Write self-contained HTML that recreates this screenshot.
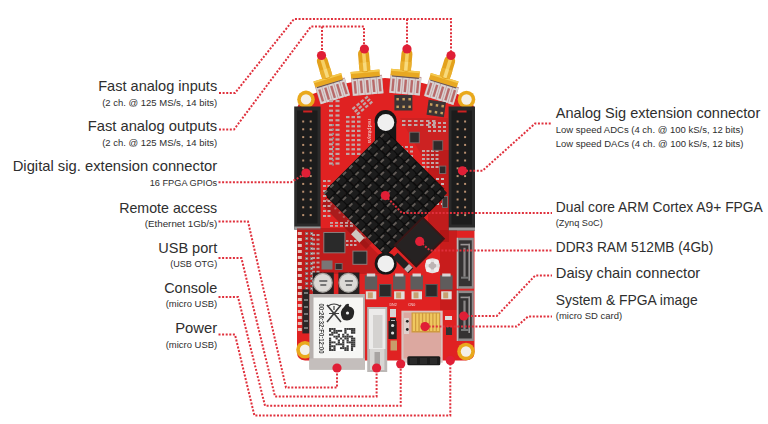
<!DOCTYPE html>
<html><head><meta charset="utf-8"><style>
html,body{margin:0;padding:0;background:#fff;}
svg{display:block;}
text{font-family:"Liberation Sans",sans-serif;fill:#2e2e2e;}
</style></head><body>
<svg width="768" height="424" viewBox="0 0 768 424">
<rect width="768" height="424" fill="#fff"/>
<defs><filter id="bl" x="-5%" y="-5%" width="110%" height="110%"><feGaussianBlur stdDeviation="0.6"/></filter></defs>
<g filter="url(#bl)"><path d="M297,108 Q300,98 310,95 Q345,80 385,78 Q425,80 460,95 Q472,98 474.5,108 L474.5,352 Q474.5,360 466,360.5 L305,360.5 Q297,360 297,352 Z" fill="#e02424"/>
<g transform="translate(328.3,80.5) rotate(-17)"><rect x="-14.5" y="2" width="31" height="18.5" fill="#c09494"/><rect x="-14" y="3" width="5.6" height="17.5" fill="#d8d2d2"/><rect x="-12.4" y="6" width="2.4" height="12.5" fill="#b86a6a"/><rect x="-7.8" y="3" width="5.6" height="17.5" fill="#d8d2d2"/><rect x="-6.199999999999999" y="6" width="2.4" height="12.5" fill="#b86a6a"/><rect x="-1.6" y="3" width="5.6" height="17.5" fill="#d8d2d2"/><rect x="0.0" y="6" width="2.4" height="12.5" fill="#b86a6a"/><rect x="4.6" y="3" width="5.6" height="17.5" fill="#d8d2d2"/><rect x="6.199999999999999" y="6" width="2.4" height="12.5" fill="#b86a6a"/><rect x="10.8" y="3" width="5.6" height="17.5" fill="#d8d2d2"/><rect x="12.4" y="6" width="2.4" height="12.5" fill="#b86a6a"/><rect x="-13" y="2.5" width="27" height="1.6" fill="#6a5656"/><rect x="-14.5" y="-3.5" width="29" height="6.5" fill="#e8a821"/><rect x="-14.5" y="-3.5" width="29" height="2" fill="#f5c94e"/><rect x="-5.5" y="-25.5" width="11" height="23.5" rx="5" fill="#e3a11b"/><rect x="-1.5" y="-22.5" width="3.5" height="17.5" fill="#f6d065"/><rect x="-5.5" y="-12" width="11" height="9" fill="#eab02f"/><rect x="-1.5" y="-12" width="3.5" height="9" fill="#f8da7c"/></g>
<g transform="translate(365.3,74.2) rotate(-5)"><rect x="-14.5" y="2" width="31" height="18.5" fill="#c09494"/><rect x="-14" y="3" width="5.6" height="17.5" fill="#d8d2d2"/><rect x="-12.4" y="6" width="2.4" height="12.5" fill="#b86a6a"/><rect x="-7.8" y="3" width="5.6" height="17.5" fill="#d8d2d2"/><rect x="-6.199999999999999" y="6" width="2.4" height="12.5" fill="#b86a6a"/><rect x="-1.6" y="3" width="5.6" height="17.5" fill="#d8d2d2"/><rect x="0.0" y="6" width="2.4" height="12.5" fill="#b86a6a"/><rect x="4.6" y="3" width="5.6" height="17.5" fill="#d8d2d2"/><rect x="6.199999999999999" y="6" width="2.4" height="12.5" fill="#b86a6a"/><rect x="10.8" y="3" width="5.6" height="17.5" fill="#d8d2d2"/><rect x="12.4" y="6" width="2.4" height="12.5" fill="#b86a6a"/><rect x="-13" y="2.5" width="27" height="1.6" fill="#6a5656"/><rect x="-14.5" y="-3.5" width="29" height="6.5" fill="#e8a821"/><rect x="-14.5" y="-3.5" width="29" height="2" fill="#f5c94e"/><rect x="-5.5" y="-25.5" width="11" height="23.5" rx="5" fill="#e3a11b"/><rect x="-1.5" y="-22.5" width="3.5" height="17.5" fill="#f6d065"/><rect x="-5.5" y="-12" width="11" height="9" fill="#eab02f"/><rect x="-1.5" y="-12" width="3.5" height="9" fill="#f8da7c"/></g>
<g transform="translate(405.2,73.6) rotate(5)"><rect x="-14.5" y="2" width="31" height="18.5" fill="#c09494"/><rect x="-14" y="3" width="5.6" height="17.5" fill="#d8d2d2"/><rect x="-12.4" y="6" width="2.4" height="12.5" fill="#b86a6a"/><rect x="-7.8" y="3" width="5.6" height="17.5" fill="#d8d2d2"/><rect x="-6.199999999999999" y="6" width="2.4" height="12.5" fill="#b86a6a"/><rect x="-1.6" y="3" width="5.6" height="17.5" fill="#d8d2d2"/><rect x="0.0" y="6" width="2.4" height="12.5" fill="#b86a6a"/><rect x="4.6" y="3" width="5.6" height="17.5" fill="#d8d2d2"/><rect x="6.199999999999999" y="6" width="2.4" height="12.5" fill="#b86a6a"/><rect x="10.8" y="3" width="5.6" height="17.5" fill="#d8d2d2"/><rect x="12.4" y="6" width="2.4" height="12.5" fill="#b86a6a"/><rect x="-13" y="2.5" width="27" height="1.6" fill="#6a5656"/><rect x="-14.5" y="-3.5" width="29" height="6.5" fill="#e8a821"/><rect x="-14.5" y="-3.5" width="29" height="2" fill="#f5c94e"/><rect x="-5.5" y="-25" width="11" height="23" rx="5" fill="#e3a11b"/><rect x="-1.5" y="-22" width="3.5" height="17" fill="#f6d065"/><rect x="-5.5" y="-12" width="11" height="9" fill="#eab02f"/><rect x="-1.5" y="-12" width="3.5" height="9" fill="#f8da7c"/></g>
<g transform="translate(443.7,80.5) rotate(17)"><rect x="-14.5" y="2" width="31" height="18.5" fill="#c09494"/><rect x="-14" y="3" width="5.6" height="17.5" fill="#d8d2d2"/><rect x="-12.4" y="6" width="2.4" height="12.5" fill="#b86a6a"/><rect x="-7.8" y="3" width="5.6" height="17.5" fill="#d8d2d2"/><rect x="-6.199999999999999" y="6" width="2.4" height="12.5" fill="#b86a6a"/><rect x="-1.6" y="3" width="5.6" height="17.5" fill="#d8d2d2"/><rect x="0.0" y="6" width="2.4" height="12.5" fill="#b86a6a"/><rect x="4.6" y="3" width="5.6" height="17.5" fill="#d8d2d2"/><rect x="6.199999999999999" y="6" width="2.4" height="12.5" fill="#b86a6a"/><rect x="10.8" y="3" width="5.6" height="17.5" fill="#d8d2d2"/><rect x="12.4" y="6" width="2.4" height="12.5" fill="#b86a6a"/><rect x="-13" y="2.5" width="27" height="1.6" fill="#6a5656"/><rect x="-14.5" y="-3.5" width="29" height="6.5" fill="#e8a821"/><rect x="-14.5" y="-3.5" width="29" height="2" fill="#f5c94e"/><rect x="-5.5" y="-25.5" width="11" height="23.5" rx="5" fill="#e3a11b"/><rect x="-1.5" y="-22.5" width="3.5" height="17.5" fill="#f6d065"/><rect x="-5.5" y="-12" width="11" height="9" fill="#eab02f"/><rect x="-1.5" y="-12" width="3.5" height="9" fill="#f8da7c"/></g>
<circle cx="306" cy="99.4" r="8.8" fill="#e9a91c"/><circle cx="306" cy="99.4" r="5.2" fill="#f4f0e8"/>
<circle cx="466.5" cy="99.5" r="8.8" fill="#e9a91c"/><circle cx="466.5" cy="99.5" r="5.2" fill="#f4f0e8"/>
<circle cx="305" cy="349.8" r="8.8" fill="#e9a91c"/><circle cx="305" cy="349.8" r="5.2" fill="#f4f0e8"/>
<circle cx="466" cy="351.5" r="8.8" fill="#e9a91c"/><circle cx="466" cy="351.5" r="5.2" fill="#f4f0e8"/>
<rect x="294.2" y="106.5" width="26.400000000000034" height="123.0" fill="#2b2b2b"/>
<rect x="297.2" y="110.5" width="20.400000000000034" height="113.0" fill="#1c1c1c"/>
<rect x="303.2" y="110.5" width="9" height="2" fill="#c22"/>
<rect x="302.2" y="120.5" width="2" height="2" fill="#b89070"/>
<rect x="309.7" y="120.5" width="2" height="2" fill="#b89070"/>
<rect x="302.2" y="128.3" width="2" height="2" fill="#b89070"/>
<rect x="309.7" y="128.3" width="2" height="2" fill="#b89070"/>
<rect x="302.2" y="136.10000000000002" width="2" height="2" fill="#b89070"/>
<rect x="309.7" y="136.10000000000002" width="2" height="2" fill="#b89070"/>
<rect x="302.2" y="143.90000000000003" width="2" height="2" fill="#b89070"/>
<rect x="309.7" y="143.90000000000003" width="2" height="2" fill="#b89070"/>
<rect x="302.2" y="151.70000000000005" width="2" height="2" fill="#b89070"/>
<rect x="309.7" y="151.70000000000005" width="2" height="2" fill="#b89070"/>
<rect x="302.2" y="159.50000000000006" width="2" height="2" fill="#b89070"/>
<rect x="309.7" y="159.50000000000006" width="2" height="2" fill="#b89070"/>
<rect x="302.2" y="167.30000000000007" width="2" height="2" fill="#b89070"/>
<rect x="309.7" y="167.30000000000007" width="2" height="2" fill="#b89070"/>
<rect x="302.2" y="175.10000000000008" width="2" height="2" fill="#b89070"/>
<rect x="309.7" y="175.10000000000008" width="2" height="2" fill="#b89070"/>
<rect x="302.2" y="182.9000000000001" width="2" height="2" fill="#b89070"/>
<rect x="309.7" y="182.9000000000001" width="2" height="2" fill="#b89070"/>
<rect x="302.2" y="190.7000000000001" width="2" height="2" fill="#b89070"/>
<rect x="309.7" y="190.7000000000001" width="2" height="2" fill="#b89070"/>
<rect x="302.2" y="198.5000000000001" width="2" height="2" fill="#b89070"/>
<rect x="309.7" y="198.5000000000001" width="2" height="2" fill="#b89070"/>
<rect x="302.2" y="206.30000000000013" width="2" height="2" fill="#b89070"/>
<rect x="309.7" y="206.30000000000013" width="2" height="2" fill="#b89070"/>
<rect x="302.2" y="214.10000000000014" width="2" height="2" fill="#b89070"/>
<rect x="309.7" y="214.10000000000014" width="2" height="2" fill="#b89070"/>
<rect x="294.2" y="226.5" width="26.400000000000034" height="3" fill="#9a9a9a"/>
<rect x="448.6" y="106.5" width="26.399999999999977" height="124.0" fill="#2b2b2b"/>
<rect x="451.6" y="110.5" width="20.399999999999977" height="114.0" fill="#1c1c1c"/>
<rect x="457.6" y="110.5" width="9" height="2" fill="#c22"/>
<rect x="456.6" y="120.5" width="2" height="2" fill="#b89070"/>
<rect x="464.1" y="120.5" width="2" height="2" fill="#b89070"/>
<rect x="456.6" y="128.3" width="2" height="2" fill="#b89070"/>
<rect x="464.1" y="128.3" width="2" height="2" fill="#b89070"/>
<rect x="456.6" y="136.10000000000002" width="2" height="2" fill="#b89070"/>
<rect x="464.1" y="136.10000000000002" width="2" height="2" fill="#b89070"/>
<rect x="456.6" y="143.90000000000003" width="2" height="2" fill="#b89070"/>
<rect x="464.1" y="143.90000000000003" width="2" height="2" fill="#b89070"/>
<rect x="456.6" y="151.70000000000005" width="2" height="2" fill="#b89070"/>
<rect x="464.1" y="151.70000000000005" width="2" height="2" fill="#b89070"/>
<rect x="456.6" y="159.50000000000006" width="2" height="2" fill="#b89070"/>
<rect x="464.1" y="159.50000000000006" width="2" height="2" fill="#b89070"/>
<rect x="456.6" y="167.30000000000007" width="2" height="2" fill="#b89070"/>
<rect x="464.1" y="167.30000000000007" width="2" height="2" fill="#b89070"/>
<rect x="456.6" y="175.10000000000008" width="2" height="2" fill="#b89070"/>
<rect x="464.1" y="175.10000000000008" width="2" height="2" fill="#b89070"/>
<rect x="456.6" y="182.9000000000001" width="2" height="2" fill="#b89070"/>
<rect x="464.1" y="182.9000000000001" width="2" height="2" fill="#b89070"/>
<rect x="456.6" y="190.7000000000001" width="2" height="2" fill="#b89070"/>
<rect x="464.1" y="190.7000000000001" width="2" height="2" fill="#b89070"/>
<rect x="456.6" y="198.5000000000001" width="2" height="2" fill="#b89070"/>
<rect x="464.1" y="198.5000000000001" width="2" height="2" fill="#b89070"/>
<rect x="456.6" y="206.30000000000013" width="2" height="2" fill="#b89070"/>
<rect x="464.1" y="206.30000000000013" width="2" height="2" fill="#b89070"/>
<rect x="456.6" y="214.10000000000014" width="2" height="2" fill="#b89070"/>
<rect x="464.1" y="214.10000000000014" width="2" height="2" fill="#b89070"/>
<rect x="448.6" y="227.5" width="26.399999999999977" height="3" fill="#9a9a9a"/>
<rect x="428" y="150" width="21" height="92" fill="#9a1212" opacity="0.45"/>
<rect x="440" y="230" width="17" height="80" fill="#9a1212" opacity="0.35"/>
<path d="M326,197 L372,243 L366,249 L322,205 Z" fill="#5a0c0c" opacity="0.4"/>
<path d="M400,118 L448,118 L448,175 L430,170 Z" fill="#b81c1c" opacity="0.5"/>
<path d="M297,228 L352,228 L380,256 L380,274 L312,274 L312,300 L297,300 Z" fill="#9a1212" opacity="0.45"/>
<rect x="305.0" y="232.0" width="3.2" height="3" fill="#8c7070"/>
<rect x="305.0" y="237.0" width="3.2" height="3" fill="#8c7070"/>
<rect x="305.0" y="242.0" width="3.2" height="3" fill="#8c7070"/>
<rect x="305.0" y="247.0" width="3.2" height="3" fill="#8c7070"/>
<rect x="305.0" y="252.0" width="3.2" height="3" fill="#8c7070"/>
<rect x="305.0" y="257.0" width="3.2" height="3" fill="#8c7070"/>
<rect x="305.0" y="262.0" width="3.2" height="3" fill="#8c7070"/>
<rect x="305.0" y="267.0" width="3.2" height="3" fill="#8c7070"/>
<rect x="305.0" y="272.0" width="3.2" height="3" fill="#8c7070"/>
<rect x="305.0" y="277.0" width="3.2" height="3" fill="#8c7070"/>
<rect x="305.0" y="282.0" width="3.2" height="3" fill="#8c7070"/>
<rect x="305.0" y="287.0" width="3.2" height="3" fill="#8c7070"/>
<rect x="310.0" y="232.0" width="3.2" height="3" fill="#8c7070"/>
<rect x="310.0" y="237.0" width="3.2" height="3" fill="#8c7070"/>
<rect x="310.0" y="242.0" width="3.2" height="3" fill="#8c7070"/>
<rect x="310.0" y="247.0" width="3.2" height="3" fill="#8c7070"/>
<rect x="310.0" y="252.0" width="3.2" height="3" fill="#8c7070"/>
<rect x="310.0" y="257.0" width="3.2" height="3" fill="#8c7070"/>
<rect x="310.0" y="262.0" width="3.2" height="3" fill="#8c7070"/>
<rect x="310.0" y="267.0" width="3.2" height="3" fill="#8c7070"/>
<rect x="310.0" y="272.0" width="3.2" height="3" fill="#8c7070"/>
<rect x="310.0" y="277.0" width="3.2" height="3" fill="#8c7070"/>
<rect x="310.0" y="282.0" width="3.2" height="3" fill="#8c7070"/>
<rect x="310.0" y="287.0" width="3.2" height="3" fill="#8c7070"/>
<rect x="306.0" y="233.0" width="1.5" height="1.2" fill="#d8c8c8"/>
<rect x="306.0" y="238.0" width="1.5" height="1.2" fill="#d8c8c8"/>
<rect x="306.0" y="243.0" width="1.5" height="1.2" fill="#d8c8c8"/>
<rect x="306.0" y="248.0" width="1.5" height="1.2" fill="#d8c8c8"/>
<rect x="306.0" y="253.0" width="1.5" height="1.2" fill="#d8c8c8"/>
<rect x="306.0" y="258.0" width="1.5" height="1.2" fill="#d8c8c8"/>
<rect x="306.0" y="263.0" width="1.5" height="1.2" fill="#d8c8c8"/>
<rect x="306.0" y="268.0" width="1.5" height="1.2" fill="#d8c8c8"/>
<rect x="306.0" y="273.0" width="1.5" height="1.2" fill="#d8c8c8"/>
<rect x="306.0" y="278.0" width="1.5" height="1.2" fill="#d8c8c8"/>
<rect x="306.0" y="283.0" width="1.5" height="1.2" fill="#d8c8c8"/>
<rect x="306.0" y="288.0" width="1.5" height="1.2" fill="#d8c8c8"/>
<rect x="311.0" y="233.0" width="1.5" height="1.2" fill="#d8c8c8"/>
<rect x="311.0" y="238.0" width="1.5" height="1.2" fill="#d8c8c8"/>
<rect x="311.0" y="243.0" width="1.5" height="1.2" fill="#d8c8c8"/>
<rect x="311.0" y="248.0" width="1.5" height="1.2" fill="#d8c8c8"/>
<rect x="311.0" y="253.0" width="1.5" height="1.2" fill="#d8c8c8"/>
<rect x="311.0" y="258.0" width="1.5" height="1.2" fill="#d8c8c8"/>
<rect x="311.0" y="263.0" width="1.5" height="1.2" fill="#d8c8c8"/>
<rect x="311.0" y="268.0" width="1.5" height="1.2" fill="#d8c8c8"/>
<rect x="311.0" y="273.0" width="1.5" height="1.2" fill="#d8c8c8"/>
<rect x="311.0" y="278.0" width="1.5" height="1.2" fill="#d8c8c8"/>
<rect x="311.0" y="283.0" width="1.5" height="1.2" fill="#d8c8c8"/>
<rect x="311.0" y="288.0" width="1.5" height="1.2" fill="#d8c8c8"/>
<rect x="329.0" y="100.0" width="4" height="2.2" fill="#c2a6a6"/>
<rect x="329.0" y="104.8" width="4" height="2.2" fill="#c2a6a6"/>
<rect x="329.0" y="109.6" width="4" height="2.2" fill="#c2a6a6"/>
<rect x="329.0" y="114.4" width="4" height="2.2" fill="#c2a6a6"/>
<rect x="329.0" y="119.2" width="4" height="2.2" fill="#c2a6a6"/>
<rect x="329.0" y="124.0" width="4" height="2.2" fill="#c2a6a6"/>
<rect x="329.0" y="128.8" width="4" height="2.2" fill="#c2a6a6"/>
<rect x="329.0" y="133.6" width="4" height="2.2" fill="#c2a6a6"/>
<rect x="329.0" y="138.4" width="4" height="2.2" fill="#c2a6a6"/>
<rect x="329.0" y="143.2" width="4" height="2.2" fill="#c2a6a6"/>
<rect x="329.0" y="148.0" width="4" height="2.2" fill="#c2a6a6"/>
<rect x="329.0" y="152.8" width="4" height="2.2" fill="#c2a6a6"/>
<rect x="329.0" y="157.6" width="4" height="2.2" fill="#c2a6a6"/>
<rect x="329.0" y="162.4" width="4" height="2.2" fill="#c2a6a6"/>
<rect x="335.5" y="100.0" width="4" height="2.2" fill="#c2a6a6"/>
<rect x="335.5" y="104.8" width="4" height="2.2" fill="#c2a6a6"/>
<rect x="335.5" y="109.6" width="4" height="2.2" fill="#c2a6a6"/>
<rect x="335.5" y="114.4" width="4" height="2.2" fill="#c2a6a6"/>
<rect x="335.5" y="119.2" width="4" height="2.2" fill="#c2a6a6"/>
<rect x="335.5" y="124.0" width="4" height="2.2" fill="#c2a6a6"/>
<rect x="335.5" y="128.8" width="4" height="2.2" fill="#c2a6a6"/>
<rect x="335.5" y="133.6" width="4" height="2.2" fill="#c2a6a6"/>
<rect x="335.5" y="138.4" width="4" height="2.2" fill="#c2a6a6"/>
<rect x="335.5" y="143.2" width="4" height="2.2" fill="#c2a6a6"/>
<rect x="335.5" y="148.0" width="4" height="2.2" fill="#c2a6a6"/>
<rect x="335.5" y="152.8" width="4" height="2.2" fill="#c2a6a6"/>
<rect x="335.5" y="157.6" width="4" height="2.2" fill="#c2a6a6"/>
<rect x="335.5" y="162.4" width="4" height="2.2" fill="#c2a6a6"/>
<rect x="346.0" y="116.0" width="3.5" height="2.2" fill="#c2a6a6"/>
<rect x="346.0" y="120.6" width="3.5" height="2.2" fill="#c2a6a6"/>
<rect x="346.0" y="125.2" width="3.5" height="2.2" fill="#c2a6a6"/>
<rect x="346.0" y="129.8" width="3.5" height="2.2" fill="#c2a6a6"/>
<rect x="346.0" y="134.4" width="3.5" height="2.2" fill="#c2a6a6"/>
<rect x="346.0" y="139.0" width="3.5" height="2.2" fill="#c2a6a6"/>
<rect x="346.0" y="143.6" width="3.5" height="2.2" fill="#c2a6a6"/>
<rect x="346.0" y="148.2" width="3.5" height="2.2" fill="#c2a6a6"/>
<rect x="346.0" y="152.8" width="3.5" height="2.2" fill="#c2a6a6"/>
<rect x="351.5" y="116.0" width="3.5" height="2.2" fill="#c2a6a6"/>
<rect x="351.5" y="120.6" width="3.5" height="2.2" fill="#c2a6a6"/>
<rect x="351.5" y="125.2" width="3.5" height="2.2" fill="#c2a6a6"/>
<rect x="351.5" y="129.8" width="3.5" height="2.2" fill="#c2a6a6"/>
<rect x="351.5" y="134.4" width="3.5" height="2.2" fill="#c2a6a6"/>
<rect x="351.5" y="139.0" width="3.5" height="2.2" fill="#c2a6a6"/>
<rect x="351.5" y="143.6" width="3.5" height="2.2" fill="#c2a6a6"/>
<rect x="351.5" y="148.2" width="3.5" height="2.2" fill="#c2a6a6"/>
<rect x="351.5" y="152.8" width="3.5" height="2.2" fill="#c2a6a6"/>
<rect x="357.0" y="116.0" width="3.5" height="2.2" fill="#c2a6a6"/>
<rect x="357.0" y="120.6" width="3.5" height="2.2" fill="#c2a6a6"/>
<rect x="357.0" y="125.2" width="3.5" height="2.2" fill="#c2a6a6"/>
<rect x="357.0" y="129.8" width="3.5" height="2.2" fill="#c2a6a6"/>
<rect x="357.0" y="134.4" width="3.5" height="2.2" fill="#c2a6a6"/>
<rect x="357.0" y="139.0" width="3.5" height="2.2" fill="#c2a6a6"/>
<rect x="357.0" y="143.6" width="3.5" height="2.2" fill="#c2a6a6"/>
<rect x="357.0" y="148.2" width="3.5" height="2.2" fill="#c2a6a6"/>
<rect x="357.0" y="152.8" width="3.5" height="2.2" fill="#c2a6a6"/>
<rect x="332.0" y="124.0" width="2" height="2" fill="#9a8a8a"/>
<rect x="332.0" y="128.4" width="2" height="2" fill="#9a8a8a"/>
<rect x="332.0" y="132.8" width="2" height="2" fill="#9a8a8a"/>
<rect x="332.0" y="137.2" width="2" height="2" fill="#9a8a8a"/>
<rect x="332.0" y="141.6" width="2" height="2" fill="#9a8a8a"/>
<rect x="332.0" y="146.0" width="2" height="2" fill="#9a8a8a"/>
<rect x="332.0" y="150.4" width="2" height="2" fill="#9a8a8a"/>
<rect x="332.0" y="154.8" width="2" height="2" fill="#9a8a8a"/>
<rect x="332.0" y="159.2" width="2" height="2" fill="#9a8a8a"/>
<rect x="332.0" y="163.6" width="2" height="2" fill="#9a8a8a"/>
<g transform="translate(362,105) rotate(-40)">
<rect x="-10.0" y="-4.0" width="3.5" height="2.2" fill="#c2a6a6"/>
<rect x="-10.0" y="-0.5" width="3.5" height="2.2" fill="#c2a6a6"/>
<rect x="-10.0" y="3.0" width="3.5" height="2.2" fill="#c2a6a6"/>
<rect x="-4.5" y="-4.0" width="3.5" height="2.2" fill="#c2a6a6"/>
<rect x="-4.5" y="-0.5" width="3.5" height="2.2" fill="#c2a6a6"/>
<rect x="-4.5" y="3.0" width="3.5" height="2.2" fill="#c2a6a6"/>
<rect x="1.0" y="-4.0" width="3.5" height="2.2" fill="#c2a6a6"/>
<rect x="1.0" y="-0.5" width="3.5" height="2.2" fill="#c2a6a6"/>
<rect x="1.0" y="3.0" width="3.5" height="2.2" fill="#c2a6a6"/>
<rect x="6.5" y="-4.0" width="3.5" height="2.2" fill="#c2a6a6"/>
<rect x="6.5" y="-0.5" width="3.5" height="2.2" fill="#c2a6a6"/>
<rect x="6.5" y="3.0" width="3.5" height="2.2" fill="#c2a6a6"/>
</g>
<text x="0" y="0" transform="translate(368,119) rotate(90)" font-size="6" style="fill:#f2d8d8" textLength="24" lengthAdjust="spacingAndGlyphs">redpitaya</text>
<rect x="402.0" y="120.0" width="3.5" height="2" fill="#c2a6a6"/>
<rect x="402.0" y="124.0" width="3.5" height="2" fill="#c2a6a6"/>
<rect x="408.0" y="120.0" width="3.5" height="2" fill="#c2a6a6"/>
<rect x="408.0" y="124.0" width="3.5" height="2" fill="#c2a6a6"/>
<rect x="414.0" y="120.0" width="3.5" height="2" fill="#c2a6a6"/>
<rect x="414.0" y="124.0" width="3.5" height="2" fill="#c2a6a6"/>
<rect x="420.0" y="120.0" width="3.5" height="2" fill="#c2a6a6"/>
<rect x="420.0" y="124.0" width="3.5" height="2" fill="#c2a6a6"/>
<rect x="426.0" y="120.0" width="3.5" height="2" fill="#c2a6a6"/>
<rect x="426.0" y="124.0" width="3.5" height="2" fill="#c2a6a6"/>
<rect x="432.0" y="120.0" width="3.5" height="2" fill="#c2a6a6"/>
<rect x="432.0" y="124.0" width="3.5" height="2" fill="#c2a6a6"/>
<rect x="400.0" y="146.0" width="3" height="2" fill="#c2a6a6"/>
<rect x="400.0" y="150.5" width="3" height="2" fill="#c2a6a6"/>
<rect x="400.0" y="155.0" width="3" height="2" fill="#c2a6a6"/>
<rect x="400.0" y="159.5" width="3" height="2" fill="#c2a6a6"/>
<rect x="400.0" y="164.0" width="3" height="2" fill="#c2a6a6"/>
<rect x="400.0" y="168.5" width="3" height="2" fill="#c2a6a6"/>
<rect x="405.0" y="146.0" width="3" height="2" fill="#c2a6a6"/>
<rect x="405.0" y="150.5" width="3" height="2" fill="#c2a6a6"/>
<rect x="405.0" y="155.0" width="3" height="2" fill="#c2a6a6"/>
<rect x="405.0" y="159.5" width="3" height="2" fill="#c2a6a6"/>
<rect x="405.0" y="164.0" width="3" height="2" fill="#c2a6a6"/>
<rect x="405.0" y="168.5" width="3" height="2" fill="#c2a6a6"/>
<rect x="410.0" y="146.0" width="3" height="2" fill="#c2a6a6"/>
<rect x="410.0" y="150.5" width="3" height="2" fill="#c2a6a6"/>
<rect x="410.0" y="155.0" width="3" height="2" fill="#c2a6a6"/>
<rect x="410.0" y="159.5" width="3" height="2" fill="#c2a6a6"/>
<rect x="410.0" y="164.0" width="3" height="2" fill="#c2a6a6"/>
<rect x="410.0" y="168.5" width="3" height="2" fill="#c2a6a6"/>
<rect x="422.0" y="150.0" width="3" height="2" fill="#c2a6a6"/>
<rect x="422.0" y="154.0" width="3" height="2" fill="#c2a6a6"/>
<rect x="422.0" y="158.0" width="3" height="2" fill="#c2a6a6"/>
<rect x="422.0" y="162.0" width="3" height="2" fill="#c2a6a6"/>
<rect x="422.0" y="166.0" width="3" height="2" fill="#c2a6a6"/>
<rect x="426.5" y="150.0" width="3" height="2" fill="#c2a6a6"/>
<rect x="426.5" y="154.0" width="3" height="2" fill="#c2a6a6"/>
<rect x="426.5" y="158.0" width="3" height="2" fill="#c2a6a6"/>
<rect x="426.5" y="162.0" width="3" height="2" fill="#c2a6a6"/>
<rect x="426.5" y="166.0" width="3" height="2" fill="#c2a6a6"/>
<rect x="431.0" y="150.0" width="3" height="2" fill="#c2a6a6"/>
<rect x="431.0" y="154.0" width="3" height="2" fill="#c2a6a6"/>
<rect x="431.0" y="158.0" width="3" height="2" fill="#c2a6a6"/>
<rect x="431.0" y="162.0" width="3" height="2" fill="#c2a6a6"/>
<rect x="431.0" y="166.0" width="3" height="2" fill="#c2a6a6"/>
<rect x="435.5" y="150.0" width="3" height="2" fill="#c2a6a6"/>
<rect x="435.5" y="154.0" width="3" height="2" fill="#c2a6a6"/>
<rect x="435.5" y="158.0" width="3" height="2" fill="#c2a6a6"/>
<rect x="435.5" y="162.0" width="3" height="2" fill="#c2a6a6"/>
<rect x="435.5" y="166.0" width="3" height="2" fill="#c2a6a6"/>
<rect x="428.0" y="122.0" width="3" height="2" fill="#c2a6a6"/>
<rect x="428.0" y="126.0" width="3" height="2" fill="#c2a6a6"/>
<rect x="428.0" y="130.0" width="3" height="2" fill="#c2a6a6"/>
<rect x="433.0" y="122.0" width="3" height="2" fill="#c2a6a6"/>
<rect x="433.0" y="126.0" width="3" height="2" fill="#c2a6a6"/>
<rect x="433.0" y="130.0" width="3" height="2" fill="#c2a6a6"/>
<rect x="438.0" y="122.0" width="3" height="2" fill="#c2a6a6"/>
<rect x="438.0" y="126.0" width="3" height="2" fill="#c2a6a6"/>
<rect x="438.0" y="130.0" width="3" height="2" fill="#c2a6a6"/>
<rect x="443.0" y="122.0" width="3" height="2" fill="#c2a6a6"/>
<rect x="443.0" y="126.0" width="3" height="2" fill="#c2a6a6"/>
<rect x="443.0" y="130.0" width="3" height="2" fill="#c2a6a6"/>
<g transform="translate(403.4,102.75) rotate(0)"><rect x="-9.0" y="-7.75" width="18.0" height="15.5" fill="#3a3434"/><rect x="-7.0" y="-4.8" width="2.5" height="2.5" fill="#c9a060"/><rect x="-7.0" y="2.8" width="2.5" height="2.5" fill="#c9a060"/><rect x="-1.0" y="-4.8" width="2.5" height="2.5" fill="#c9a060"/><rect x="-1.0" y="2.8" width="2.5" height="2.5" fill="#c9a060"/><rect x="5.0" y="-4.8" width="2.5" height="2.5" fill="#c9a060"/><rect x="5.0" y="2.8" width="2.5" height="2.5" fill="#c9a060"/></g>
<g transform="translate(436.25,108.5) rotate(8)"><rect x="-8.75" y="-7.5" width="17.5" height="15" fill="#3a3434"/><rect x="-6.8" y="-4.5" width="2.5" height="2.5" fill="#c9a060"/><rect x="-6.8" y="2.5" width="2.5" height="2.5" fill="#c9a060"/><rect x="-1.0" y="-4.5" width="2.5" height="2.5" fill="#c9a060"/><rect x="-1.0" y="2.5" width="2.5" height="2.5" fill="#c9a060"/><rect x="4.8" y="-4.5" width="2.5" height="2.5" fill="#c9a060"/><rect x="4.8" y="2.5" width="2.5" height="2.5" fill="#c9a060"/></g>
<rect x="409.2" y="131.7" width="10.600000000000023" height="11.600000000000023" fill="#7a6262"/>
<rect x="410.2" y="132.7" width="8.600000000000023" height="9.600000000000023" fill="#2e2c2c"/>
<rect x="432.5" y="140.2" width="10.699999999999989" height="10.600000000000023" fill="#7a6262"/>
<rect x="433.5" y="141.2" width="8.699999999999989" height="8.600000000000023" fill="#2e2c2c"/>
<rect x="439" y="165.6" width="7.300000000000011" height="8.400000000000006" fill="#7a6262"/>
<rect x="440" y="166.6" width="5.300000000000011" height="6.400000000000006" fill="#2e2c2c"/>
<rect x="323.0" y="180.0" width="3" height="2" fill="#c2a6a6"/>
<rect x="323.0" y="185.0" width="3" height="2" fill="#c2a6a6"/>
<rect x="323.0" y="190.0" width="3" height="2" fill="#c2a6a6"/>
<rect x="323.0" y="195.0" width="3" height="2" fill="#c2a6a6"/>
<rect x="323.0" y="200.0" width="3" height="2" fill="#c2a6a6"/>
<rect x="323.0" y="205.0" width="3" height="2" fill="#c2a6a6"/>
<rect x="323.0" y="210.0" width="3" height="2" fill="#c2a6a6"/>
<rect x="323.0" y="215.0" width="3" height="2" fill="#c2a6a6"/>
<rect x="327.5" y="180.0" width="3" height="2" fill="#c2a6a6"/>
<rect x="327.5" y="185.0" width="3" height="2" fill="#c2a6a6"/>
<rect x="327.5" y="190.0" width="3" height="2" fill="#c2a6a6"/>
<rect x="327.5" y="195.0" width="3" height="2" fill="#c2a6a6"/>
<rect x="327.5" y="200.0" width="3" height="2" fill="#c2a6a6"/>
<rect x="327.5" y="205.0" width="3" height="2" fill="#c2a6a6"/>
<rect x="327.5" y="210.0" width="3" height="2" fill="#c2a6a6"/>
<rect x="327.5" y="215.0" width="3" height="2" fill="#c2a6a6"/>
<rect x="330.0" y="222.0" width="3" height="1.8" fill="#c2a6a6"/>
<rect x="330.0" y="225.0" width="3" height="1.8" fill="#c2a6a6"/>
<rect x="335.0" y="222.0" width="3" height="1.8" fill="#c2a6a6"/>
<rect x="335.0" y="225.0" width="3" height="1.8" fill="#c2a6a6"/>
<rect x="340.0" y="222.0" width="3" height="1.8" fill="#c2a6a6"/>
<rect x="340.0" y="225.0" width="3" height="1.8" fill="#c2a6a6"/>
<rect x="345.0" y="222.0" width="3" height="1.8" fill="#c2a6a6"/>
<rect x="345.0" y="225.0" width="3" height="1.8" fill="#c2a6a6"/>
<rect x="350.0" y="222.0" width="3" height="1.8" fill="#c2a6a6"/>
<rect x="350.0" y="225.0" width="3" height="1.8" fill="#c2a6a6"/>
<rect x="436.0" y="178.0" width="3" height="2" fill="#c8b8b8"/>
<rect x="436.0" y="183.0" width="3" height="2" fill="#c8b8b8"/>
<rect x="436.0" y="188.0" width="3" height="2" fill="#c8b8b8"/>
<rect x="436.0" y="193.0" width="3" height="2" fill="#c8b8b8"/>
<rect x="436.0" y="198.0" width="3" height="2" fill="#c8b8b8"/>
<rect x="436.0" y="203.0" width="3" height="2" fill="#c8b8b8"/>
<rect x="441.0" y="178.0" width="3" height="2" fill="#c8b8b8"/>
<rect x="441.0" y="183.0" width="3" height="2" fill="#c8b8b8"/>
<rect x="441.0" y="188.0" width="3" height="2" fill="#c8b8b8"/>
<rect x="441.0" y="193.0" width="3" height="2" fill="#c8b8b8"/>
<rect x="441.0" y="198.0" width="3" height="2" fill="#c8b8b8"/>
<rect x="441.0" y="203.0" width="3" height="2" fill="#c8b8b8"/>
<rect x="442" y="196" width="6" height="12" fill="#7a6262"/>
<rect x="443" y="197" width="4" height="10" fill="#3a3434"/>
<rect x="323.3" y="232" width="22.099999999999966" height="21.30000000000001" fill="#8a7a7a"/>
<rect x="324.3" y="233" width="20.099999999999966" height="19.30000000000001" fill="#2b2a2a"/>
<rect x="352.4" y="250.6" width="15.0" height="14.200000000000017" fill="#8a7a7a"/>
<rect x="353.4" y="251.6" width="13.0" height="12.200000000000017" fill="#2b2a2a"/>
<rect x="334.8" y="263" width="7.899999999999977" height="7" fill="#7a6262"/>
<rect x="335.8" y="264" width="5.899999999999977" height="5" fill="#2e2c2c"/>
<rect x="321.5" y="260.5" width="11" height="9" fill="#7a7676"/>
<g transform="translate(357.7,236) rotate(45)"><rect x="-6" y="-3.5" width="12" height="7" fill="#cfc8c0"/></g>
<rect x="346.0" y="240.0" width="2.5" height="2" fill="#c2a6a6"/>
<rect x="346.0" y="244.0" width="2.5" height="2" fill="#c2a6a6"/>
<rect x="350.0" y="240.0" width="2.5" height="2" fill="#c2a6a6"/>
<rect x="350.0" y="244.0" width="2.5" height="2" fill="#c2a6a6"/>
<rect x="354.0" y="240.0" width="2.5" height="2" fill="#c2a6a6"/>
<rect x="354.0" y="244.0" width="2.5" height="2" fill="#c2a6a6"/>
<rect x="312.0" y="234.0" width="3" height="2" fill="#b8a0a0"/>
<rect x="312.0" y="238.6" width="3" height="2" fill="#b8a0a0"/>
<rect x="312.0" y="243.2" width="3" height="2" fill="#b8a0a0"/>
<rect x="312.0" y="247.8" width="3" height="2" fill="#b8a0a0"/>
<rect x="312.0" y="252.4" width="3" height="2" fill="#b8a0a0"/>
<rect x="312.0" y="257.0" width="3" height="2" fill="#b8a0a0"/>
<rect x="312.0" y="261.6" width="3" height="2" fill="#b8a0a0"/>
<rect x="312.0" y="266.2" width="3" height="2" fill="#b8a0a0"/>
<rect x="312.0" y="270.8" width="3" height="2" fill="#b8a0a0"/>
<rect x="312.0" y="275.4" width="3" height="2" fill="#b8a0a0"/>
<rect x="312.0" y="280.0" width="3" height="2" fill="#b8a0a0"/>
<rect x="312.0" y="284.6" width="3" height="2" fill="#b8a0a0"/>
<rect x="312.0" y="289.2" width="3" height="2" fill="#b8a0a0"/>
<rect x="312.0" y="293.8" width="3" height="2" fill="#b8a0a0"/>
<rect x="316.5" y="234.0" width="3" height="2" fill="#b8a0a0"/>
<rect x="316.5" y="238.6" width="3" height="2" fill="#b8a0a0"/>
<rect x="316.5" y="243.2" width="3" height="2" fill="#b8a0a0"/>
<rect x="316.5" y="247.8" width="3" height="2" fill="#b8a0a0"/>
<rect x="316.5" y="252.4" width="3" height="2" fill="#b8a0a0"/>
<rect x="316.5" y="257.0" width="3" height="2" fill="#b8a0a0"/>
<rect x="316.5" y="261.6" width="3" height="2" fill="#b8a0a0"/>
<rect x="316.5" y="266.2" width="3" height="2" fill="#b8a0a0"/>
<rect x="316.5" y="270.8" width="3" height="2" fill="#b8a0a0"/>
<rect x="316.5" y="275.4" width="3" height="2" fill="#b8a0a0"/>
<rect x="316.5" y="280.0" width="3" height="2" fill="#b8a0a0"/>
<rect x="316.5" y="284.6" width="3" height="2" fill="#b8a0a0"/>
<rect x="316.5" y="289.2" width="3" height="2" fill="#b8a0a0"/>
<rect x="316.5" y="293.8" width="3" height="2" fill="#b8a0a0"/>
<rect x="312.8" y="272.5" width="21" height="21.5" fill="#262424"/>
<circle cx="322.8" cy="282.8" r="9.4" fill="#dcdad6"/>
<circle cx="322.8" cy="282.8" r="9.4" fill="none" stroke="#a8a4a0" stroke-width="1.2"/>
<rect x="319.3" y="280" width="8" height="2" fill="#777"/><rect x="320.3" y="284" width="6" height="2" fill="#777"/>
<rect x="338.4" y="272.5" width="21" height="21.5" fill="#262424"/>
<circle cx="348.4" cy="282.8" r="9.4" fill="#dcdad6"/>
<circle cx="348.4" cy="282.8" r="9.4" fill="none" stroke="#a8a4a0" stroke-width="1.2"/>
<rect x="344.9" y="280" width="8" height="2" fill="#777"/><rect x="345.9" y="284" width="6" height="2" fill="#777"/>
<rect x="364.8" y="275.3" width="12.4" height="14.3" fill="#5e5c5c"/>
<rect x="366.8" y="273.5" width="8.4" height="3" fill="#d8d4d4"/>
<rect x="365.8" y="291.3" width="10.5" height="8" fill="#e0e0dc"/>
<rect x="367.8" y="292.3" width="5" height="6" fill="#c8a070"/>
<rect x="393.1" y="275.3" width="12.4" height="14.3" fill="#5e5c5c"/>
<rect x="395.1" y="273.5" width="8.4" height="3" fill="#d8d4d4"/>
<rect x="394.1" y="291.3" width="10.5" height="8" fill="#e0e0dc"/>
<rect x="396.1" y="292.3" width="5" height="6" fill="#c8a070"/>
<rect x="410.5" y="275.3" width="12.4" height="14.3" fill="#5e5c5c"/>
<rect x="412.5" y="273.5" width="8.4" height="3" fill="#d8d4d4"/>
<rect x="411.5" y="291.3" width="10.5" height="8" fill="#e0e0dc"/>
<rect x="413.5" y="292.3" width="5" height="6" fill="#c8a070"/>
<rect x="440.2" y="275.3" width="12.4" height="14.3" fill="#5e5c5c"/>
<rect x="442.2" y="273.5" width="8.4" height="3" fill="#d8d4d4"/>
<rect x="441.2" y="291.3" width="10.5" height="8" fill="#e0e0dc"/>
<rect x="443.2" y="292.3" width="5" height="6" fill="#c8a070"/>
<rect x="379" y="284" width="12.5" height="13" fill="#555"/>
<rect x="380" y="285" width="10.5" height="11" fill="#2a2a2a"/>
<rect x="425.3" y="284" width="12.399999999999977" height="13" fill="#555"/>
<rect x="426.3" y="285" width="10.399999999999977" height="11" fill="#2a2a2a"/>
<circle cx="432.4" cy="265.7" r="7.5" fill="#e4e0e0"/><circle cx="432.4" cy="265.7" r="3.8" fill="#bdb4b4"/>
<circle cx="428.4" cy="261.7" r="2.5" fill="#f0eeee"/>
<circle cx="436.4" cy="261.7" r="2.5" fill="#f0eeee"/>
<circle cx="428.4" cy="269.7" r="2.5" fill="#f0eeee"/>
<circle cx="436.4" cy="269.7" r="2.5" fill="#f0eeee"/>
<rect x="390" y="318" width="6" height="12" fill="#222"/><rect x="391" y="320" width="4" height="3" fill="#bbb"/>
<rect x="445" y="316" width="7" height="4" fill="#ddd"/><rect x="446" y="327" width="6" height="8" fill="#333"/>
<rect x="302.4" y="289.4" width="7" height="44" fill="#2a2626"/>
<rect x="304" y="292" width="4" height="2" fill="#777"/>
<rect x="304" y="299" width="4" height="2" fill="#777"/>
<rect x="304" y="306" width="4" height="2" fill="#777"/>
<rect x="304" y="313" width="4" height="2" fill="#777"/>
<rect x="304" y="320" width="4" height="2" fill="#777"/>
<rect x="304" y="327" width="4" height="2" fill="#777"/>
<rect x="297.8" y="232" width="4" height="3" fill="#e4c4bc"/>
<rect x="297.8" y="238" width="4" height="3" fill="#e4c4bc"/>
<rect x="297.8" y="244" width="4" height="3" fill="#e4c4bc"/>
<rect x="297.8" y="250" width="4" height="3" fill="#e4c4bc"/>
<rect x="297.8" y="256" width="4" height="3" fill="#e4c4bc"/>
<rect x="297.8" y="262" width="4" height="3" fill="#e4c4bc"/>
<rect x="297.8" y="268" width="4" height="3" fill="#e4c4bc"/>
<rect x="297.8" y="274" width="4" height="3" fill="#e4c4bc"/>
<rect x="297.8" y="280" width="4" height="3" fill="#e4c4bc"/>
<rect x="297.8" y="286" width="4" height="3" fill="#e4c4bc"/>
<rect x="297.8" y="292" width="4" height="3" fill="#e4c4bc"/>
<rect x="297.8" y="298" width="4" height="3" fill="#e4c4bc"/>
<rect x="297.8" y="304" width="4" height="3" fill="#e4c4bc"/>
<rect x="297.8" y="310" width="4" height="3" fill="#e4c4bc"/>
<rect x="297.8" y="316" width="4" height="3" fill="#e4c4bc"/>
<rect x="297.8" y="322" width="4" height="3" fill="#e4c4bc"/>
<rect x="297.8" y="328" width="4" height="3" fill="#e4c4bc"/>
<g opacity="0.5"><rect x="326.0" y="199.0" width="2" height="2" fill="#c8a0a0"/><rect x="330.2" y="203.2" width="2" height="2" fill="#c8a0a0"/><rect x="334.4" y="207.4" width="2" height="2" fill="#c8a0a0"/><rect x="338.6" y="211.6" width="2" height="2" fill="#c8a0a0"/><rect x="342.8" y="215.8" width="2" height="2" fill="#c8a0a0"/><rect x="347.0" y="220.0" width="2" height="2" fill="#c8a0a0"/><rect x="351.2" y="224.2" width="2" height="2" fill="#c8a0a0"/><rect x="355.4" y="228.4" width="2" height="2" fill="#c8a0a0"/><rect x="359.6" y="232.6" width="2" height="2" fill="#c8a0a0"/><rect x="363.8" y="236.8" width="2" height="2" fill="#c8a0a0"/></g>
<circle cx="385.6" cy="121" r="11" fill="#151515"/><rect x="375" y="121" width="21.2" height="22" fill="#151515"/>
<path d="M385.5,130.0 L444.0,188.5 L444.0,197.5 L385.5,256.0 L327.0,197.5 L327.0,188.5 Z" fill="#111"/>
<circle cx="385.7" cy="263.6" r="11" fill="#151515"/>
<g transform="translate(385.5,193.0) rotate(45)"><rect x="-43.66" y="-43.66" width="7.13" height="7.13" rx="1" fill="#1d1c1c"/><rect x="-43.83" y="-40.54" width="1.96" height="4.45" fill="#625c58"/><rect x="-43.66" y="-34.75" width="7.13" height="7.13" rx="1" fill="#1d1c1c"/><rect x="-43.83" y="-31.63" width="1.96" height="4.45" fill="#625c58"/><rect x="-43.66" y="-25.84" width="7.13" height="7.13" rx="1" fill="#1d1c1c"/><rect x="-43.83" y="-22.72" width="1.96" height="4.45" fill="#625c58"/><rect x="-43.66" y="-16.93" width="7.13" height="7.13" rx="1" fill="#1d1c1c"/><rect x="-43.83" y="-13.81" width="1.96" height="4.45" fill="#625c58"/><rect x="-43.66" y="-8.02" width="7.13" height="7.13" rx="1" fill="#1d1c1c"/><rect x="-43.83" y="-4.90" width="1.96" height="4.45" fill="#625c58"/><rect x="-43.66" y="0.89" width="7.13" height="7.13" rx="1" fill="#1d1c1c"/><rect x="-43.83" y="4.01" width="1.96" height="4.45" fill="#625c58"/><rect x="-43.66" y="9.80" width="7.13" height="7.13" rx="1" fill="#1d1c1c"/><rect x="-43.83" y="12.92" width="1.96" height="4.45" fill="#625c58"/><rect x="-43.66" y="18.71" width="7.13" height="7.13" rx="1" fill="#1d1c1c"/><rect x="-43.83" y="21.83" width="1.96" height="4.45" fill="#625c58"/><rect x="-43.66" y="27.62" width="7.13" height="7.13" rx="1" fill="#1d1c1c"/><rect x="-43.83" y="30.74" width="1.96" height="4.45" fill="#625c58"/><rect x="-43.66" y="36.53" width="7.13" height="7.13" rx="1" fill="#1d1c1c"/><rect x="-43.83" y="39.65" width="1.96" height="4.45" fill="#625c58"/><rect x="-34.75" y="-43.66" width="7.13" height="7.13" rx="1" fill="#1d1c1c"/><rect x="-34.93" y="-40.54" width="1.96" height="4.45" fill="#625c58"/><rect x="-34.75" y="-34.75" width="7.13" height="7.13" rx="1" fill="#1d1c1c"/><rect x="-34.93" y="-31.63" width="1.96" height="4.45" fill="#625c58"/><rect x="-34.75" y="-25.84" width="7.13" height="7.13" rx="1" fill="#1d1c1c"/><rect x="-34.93" y="-22.72" width="1.96" height="4.45" fill="#625c58"/><rect x="-34.75" y="-16.93" width="7.13" height="7.13" rx="1" fill="#1d1c1c"/><rect x="-34.93" y="-13.81" width="1.96" height="4.45" fill="#625c58"/><rect x="-34.75" y="-8.02" width="7.13" height="7.13" rx="1" fill="#1d1c1c"/><rect x="-34.93" y="-4.90" width="1.96" height="4.45" fill="#625c58"/><rect x="-34.75" y="0.89" width="7.13" height="7.13" rx="1" fill="#1d1c1c"/><rect x="-34.93" y="4.01" width="1.96" height="4.45" fill="#625c58"/><rect x="-34.75" y="9.80" width="7.13" height="7.13" rx="1" fill="#1d1c1c"/><rect x="-34.93" y="12.92" width="1.96" height="4.45" fill="#625c58"/><rect x="-34.75" y="18.71" width="7.13" height="7.13" rx="1" fill="#1d1c1c"/><rect x="-34.93" y="21.83" width="1.96" height="4.45" fill="#625c58"/><rect x="-34.75" y="27.62" width="7.13" height="7.13" rx="1" fill="#1d1c1c"/><rect x="-34.93" y="30.74" width="1.96" height="4.45" fill="#625c58"/><rect x="-34.75" y="36.53" width="7.13" height="7.13" rx="1" fill="#1d1c1c"/><rect x="-34.93" y="39.65" width="1.96" height="4.45" fill="#625c58"/><rect x="-25.84" y="-43.66" width="7.13" height="7.13" rx="1" fill="#1d1c1c"/><rect x="-26.02" y="-40.54" width="1.96" height="4.45" fill="#625c58"/><rect x="-25.84" y="-34.75" width="7.13" height="7.13" rx="1" fill="#1d1c1c"/><rect x="-26.02" y="-31.63" width="1.96" height="4.45" fill="#625c58"/><rect x="-25.84" y="-25.84" width="7.13" height="7.13" rx="1" fill="#1d1c1c"/><rect x="-26.02" y="-22.72" width="1.96" height="4.45" fill="#625c58"/><rect x="-25.84" y="-16.93" width="7.13" height="7.13" rx="1" fill="#1d1c1c"/><rect x="-26.02" y="-13.81" width="1.96" height="4.45" fill="#625c58"/><rect x="-25.84" y="-8.02" width="7.13" height="7.13" rx="1" fill="#1d1c1c"/><rect x="-26.02" y="-4.90" width="1.96" height="4.45" fill="#625c58"/><rect x="-25.84" y="0.89" width="7.13" height="7.13" rx="1" fill="#1d1c1c"/><rect x="-26.02" y="4.01" width="1.96" height="4.45" fill="#625c58"/><rect x="-25.84" y="9.80" width="7.13" height="7.13" rx="1" fill="#1d1c1c"/><rect x="-26.02" y="12.92" width="1.96" height="4.45" fill="#625c58"/><rect x="-25.84" y="18.71" width="7.13" height="7.13" rx="1" fill="#1d1c1c"/><rect x="-26.02" y="21.83" width="1.96" height="4.45" fill="#625c58"/><rect x="-25.84" y="27.62" width="7.13" height="7.13" rx="1" fill="#1d1c1c"/><rect x="-26.02" y="30.74" width="1.96" height="4.45" fill="#625c58"/><rect x="-25.84" y="36.53" width="7.13" height="7.13" rx="1" fill="#1d1c1c"/><rect x="-26.02" y="39.65" width="1.96" height="4.45" fill="#625c58"/><rect x="-16.93" y="-43.66" width="7.13" height="7.13" rx="1" fill="#1d1c1c"/><rect x="-17.11" y="-40.54" width="1.96" height="4.45" fill="#625c58"/><rect x="-16.93" y="-34.75" width="7.13" height="7.13" rx="1" fill="#1d1c1c"/><rect x="-17.11" y="-31.63" width="1.96" height="4.45" fill="#625c58"/><rect x="-16.93" y="-25.84" width="7.13" height="7.13" rx="1" fill="#1d1c1c"/><rect x="-17.11" y="-22.72" width="1.96" height="4.45" fill="#625c58"/><rect x="-16.93" y="-16.93" width="7.13" height="7.13" rx="1" fill="#1d1c1c"/><rect x="-17.11" y="-13.81" width="1.96" height="4.45" fill="#625c58"/><rect x="-16.93" y="-8.02" width="7.13" height="7.13" rx="1" fill="#1d1c1c"/><rect x="-17.11" y="-4.90" width="1.96" height="4.45" fill="#625c58"/><rect x="-16.93" y="0.89" width="7.13" height="7.13" rx="1" fill="#1d1c1c"/><rect x="-17.11" y="4.01" width="1.96" height="4.45" fill="#625c58"/><rect x="-16.93" y="9.80" width="7.13" height="7.13" rx="1" fill="#1d1c1c"/><rect x="-17.11" y="12.92" width="1.96" height="4.45" fill="#625c58"/><rect x="-16.93" y="18.71" width="7.13" height="7.13" rx="1" fill="#1d1c1c"/><rect x="-17.11" y="21.83" width="1.96" height="4.45" fill="#625c58"/><rect x="-16.93" y="27.62" width="7.13" height="7.13" rx="1" fill="#1d1c1c"/><rect x="-17.11" y="30.74" width="1.96" height="4.45" fill="#625c58"/><rect x="-16.93" y="36.53" width="7.13" height="7.13" rx="1" fill="#1d1c1c"/><rect x="-17.11" y="39.65" width="1.96" height="4.45" fill="#625c58"/><rect x="-8.02" y="-43.66" width="7.13" height="7.13" rx="1" fill="#1d1c1c"/><rect x="-8.20" y="-40.54" width="1.96" height="4.45" fill="#625c58"/><rect x="-8.02" y="-34.75" width="7.13" height="7.13" rx="1" fill="#1d1c1c"/><rect x="-8.20" y="-31.63" width="1.96" height="4.45" fill="#625c58"/><rect x="-8.02" y="-25.84" width="7.13" height="7.13" rx="1" fill="#1d1c1c"/><rect x="-8.20" y="-22.72" width="1.96" height="4.45" fill="#625c58"/><rect x="-8.02" y="-16.93" width="7.13" height="7.13" rx="1" fill="#1d1c1c"/><rect x="-8.20" y="-13.81" width="1.96" height="4.45" fill="#625c58"/><rect x="-8.02" y="-8.02" width="7.13" height="7.13" rx="1" fill="#1d1c1c"/><rect x="-8.20" y="-4.90" width="1.96" height="4.45" fill="#625c58"/><rect x="-8.02" y="0.89" width="7.13" height="7.13" rx="1" fill="#1d1c1c"/><rect x="-8.20" y="4.01" width="1.96" height="4.45" fill="#625c58"/><rect x="-8.02" y="9.80" width="7.13" height="7.13" rx="1" fill="#1d1c1c"/><rect x="-8.20" y="12.92" width="1.96" height="4.45" fill="#625c58"/><rect x="-8.02" y="18.71" width="7.13" height="7.13" rx="1" fill="#1d1c1c"/><rect x="-8.20" y="21.83" width="1.96" height="4.45" fill="#625c58"/><rect x="-8.02" y="27.62" width="7.13" height="7.13" rx="1" fill="#1d1c1c"/><rect x="-8.20" y="30.74" width="1.96" height="4.45" fill="#625c58"/><rect x="-8.02" y="36.53" width="7.13" height="7.13" rx="1" fill="#1d1c1c"/><rect x="-8.20" y="39.65" width="1.96" height="4.45" fill="#625c58"/><rect x="0.89" y="-43.66" width="7.13" height="7.13" rx="1" fill="#1d1c1c"/><rect x="0.71" y="-40.54" width="1.96" height="4.45" fill="#625c58"/><rect x="0.89" y="-34.75" width="7.13" height="7.13" rx="1" fill="#1d1c1c"/><rect x="0.71" y="-31.63" width="1.96" height="4.45" fill="#625c58"/><rect x="0.89" y="-25.84" width="7.13" height="7.13" rx="1" fill="#1d1c1c"/><rect x="0.71" y="-22.72" width="1.96" height="4.45" fill="#625c58"/><rect x="0.89" y="-16.93" width="7.13" height="7.13" rx="1" fill="#1d1c1c"/><rect x="0.71" y="-13.81" width="1.96" height="4.45" fill="#625c58"/><rect x="0.89" y="-8.02" width="7.13" height="7.13" rx="1" fill="#1d1c1c"/><rect x="0.71" y="-4.90" width="1.96" height="4.45" fill="#625c58"/><rect x="0.89" y="0.89" width="7.13" height="7.13" rx="1" fill="#1d1c1c"/><rect x="0.71" y="4.01" width="1.96" height="4.45" fill="#625c58"/><rect x="0.89" y="9.80" width="7.13" height="7.13" rx="1" fill="#1d1c1c"/><rect x="0.71" y="12.92" width="1.96" height="4.45" fill="#625c58"/><rect x="0.89" y="18.71" width="7.13" height="7.13" rx="1" fill="#1d1c1c"/><rect x="0.71" y="21.83" width="1.96" height="4.45" fill="#625c58"/><rect x="0.89" y="27.62" width="7.13" height="7.13" rx="1" fill="#1d1c1c"/><rect x="0.71" y="30.74" width="1.96" height="4.45" fill="#625c58"/><rect x="0.89" y="36.53" width="7.13" height="7.13" rx="1" fill="#1d1c1c"/><rect x="0.71" y="39.65" width="1.96" height="4.45" fill="#625c58"/><rect x="9.80" y="-43.66" width="7.13" height="7.13" rx="1" fill="#1d1c1c"/><rect x="9.62" y="-40.54" width="1.96" height="4.45" fill="#625c58"/><rect x="9.80" y="-34.75" width="7.13" height="7.13" rx="1" fill="#1d1c1c"/><rect x="9.62" y="-31.63" width="1.96" height="4.45" fill="#625c58"/><rect x="9.80" y="-25.84" width="7.13" height="7.13" rx="1" fill="#1d1c1c"/><rect x="9.62" y="-22.72" width="1.96" height="4.45" fill="#625c58"/><rect x="9.80" y="-16.93" width="7.13" height="7.13" rx="1" fill="#1d1c1c"/><rect x="9.62" y="-13.81" width="1.96" height="4.45" fill="#625c58"/><rect x="9.80" y="-8.02" width="7.13" height="7.13" rx="1" fill="#1d1c1c"/><rect x="9.62" y="-4.90" width="1.96" height="4.45" fill="#625c58"/><rect x="9.80" y="0.89" width="7.13" height="7.13" rx="1" fill="#1d1c1c"/><rect x="9.62" y="4.01" width="1.96" height="4.45" fill="#625c58"/><rect x="9.80" y="9.80" width="7.13" height="7.13" rx="1" fill="#1d1c1c"/><rect x="9.62" y="12.92" width="1.96" height="4.45" fill="#625c58"/><rect x="9.80" y="18.71" width="7.13" height="7.13" rx="1" fill="#1d1c1c"/><rect x="9.62" y="21.83" width="1.96" height="4.45" fill="#625c58"/><rect x="9.80" y="27.62" width="7.13" height="7.13" rx="1" fill="#1d1c1c"/><rect x="9.62" y="30.74" width="1.96" height="4.45" fill="#625c58"/><rect x="9.80" y="36.53" width="7.13" height="7.13" rx="1" fill="#1d1c1c"/><rect x="9.62" y="39.65" width="1.96" height="4.45" fill="#625c58"/><rect x="18.71" y="-43.66" width="7.13" height="7.13" rx="1" fill="#1d1c1c"/><rect x="18.53" y="-40.54" width="1.96" height="4.45" fill="#625c58"/><rect x="18.71" y="-34.75" width="7.13" height="7.13" rx="1" fill="#1d1c1c"/><rect x="18.53" y="-31.63" width="1.96" height="4.45" fill="#625c58"/><rect x="18.71" y="-25.84" width="7.13" height="7.13" rx="1" fill="#1d1c1c"/><rect x="18.53" y="-22.72" width="1.96" height="4.45" fill="#625c58"/><rect x="18.71" y="-16.93" width="7.13" height="7.13" rx="1" fill="#1d1c1c"/><rect x="18.53" y="-13.81" width="1.96" height="4.45" fill="#625c58"/><rect x="18.71" y="-8.02" width="7.13" height="7.13" rx="1" fill="#1d1c1c"/><rect x="18.53" y="-4.90" width="1.96" height="4.45" fill="#625c58"/><rect x="18.71" y="0.89" width="7.13" height="7.13" rx="1" fill="#1d1c1c"/><rect x="18.53" y="4.01" width="1.96" height="4.45" fill="#625c58"/><rect x="18.71" y="9.80" width="7.13" height="7.13" rx="1" fill="#1d1c1c"/><rect x="18.53" y="12.92" width="1.96" height="4.45" fill="#625c58"/><rect x="18.71" y="18.71" width="7.13" height="7.13" rx="1" fill="#1d1c1c"/><rect x="18.53" y="21.83" width="1.96" height="4.45" fill="#625c58"/><rect x="18.71" y="27.62" width="7.13" height="7.13" rx="1" fill="#1d1c1c"/><rect x="18.53" y="30.74" width="1.96" height="4.45" fill="#625c58"/><rect x="18.71" y="36.53" width="7.13" height="7.13" rx="1" fill="#1d1c1c"/><rect x="18.53" y="39.65" width="1.96" height="4.45" fill="#625c58"/><rect x="27.62" y="-43.66" width="7.13" height="7.13" rx="1" fill="#1d1c1c"/><rect x="27.44" y="-40.54" width="1.96" height="4.45" fill="#625c58"/><rect x="27.62" y="-34.75" width="7.13" height="7.13" rx="1" fill="#1d1c1c"/><rect x="27.44" y="-31.63" width="1.96" height="4.45" fill="#625c58"/><rect x="27.62" y="-25.84" width="7.13" height="7.13" rx="1" fill="#1d1c1c"/><rect x="27.44" y="-22.72" width="1.96" height="4.45" fill="#625c58"/><rect x="27.62" y="-16.93" width="7.13" height="7.13" rx="1" fill="#1d1c1c"/><rect x="27.44" y="-13.81" width="1.96" height="4.45" fill="#625c58"/><rect x="27.62" y="-8.02" width="7.13" height="7.13" rx="1" fill="#1d1c1c"/><rect x="27.44" y="-4.90" width="1.96" height="4.45" fill="#625c58"/><rect x="27.62" y="0.89" width="7.13" height="7.13" rx="1" fill="#1d1c1c"/><rect x="27.44" y="4.01" width="1.96" height="4.45" fill="#625c58"/><rect x="27.62" y="9.80" width="7.13" height="7.13" rx="1" fill="#1d1c1c"/><rect x="27.44" y="12.92" width="1.96" height="4.45" fill="#625c58"/><rect x="27.62" y="18.71" width="7.13" height="7.13" rx="1" fill="#1d1c1c"/><rect x="27.44" y="21.83" width="1.96" height="4.45" fill="#625c58"/><rect x="27.62" y="27.62" width="7.13" height="7.13" rx="1" fill="#1d1c1c"/><rect x="27.44" y="30.74" width="1.96" height="4.45" fill="#625c58"/><rect x="27.62" y="36.53" width="7.13" height="7.13" rx="1" fill="#1d1c1c"/><rect x="27.44" y="39.65" width="1.96" height="4.45" fill="#625c58"/><rect x="36.53" y="-43.66" width="7.13" height="7.13" rx="1" fill="#1d1c1c"/><rect x="36.35" y="-40.54" width="1.96" height="4.45" fill="#625c58"/><rect x="36.53" y="-34.75" width="7.13" height="7.13" rx="1" fill="#1d1c1c"/><rect x="36.35" y="-31.63" width="1.96" height="4.45" fill="#625c58"/><rect x="36.53" y="-25.84" width="7.13" height="7.13" rx="1" fill="#1d1c1c"/><rect x="36.35" y="-22.72" width="1.96" height="4.45" fill="#625c58"/><rect x="36.53" y="-16.93" width="7.13" height="7.13" rx="1" fill="#1d1c1c"/><rect x="36.35" y="-13.81" width="1.96" height="4.45" fill="#625c58"/><rect x="36.53" y="-8.02" width="7.13" height="7.13" rx="1" fill="#1d1c1c"/><rect x="36.35" y="-4.90" width="1.96" height="4.45" fill="#625c58"/><rect x="36.53" y="0.89" width="7.13" height="7.13" rx="1" fill="#1d1c1c"/><rect x="36.35" y="4.01" width="1.96" height="4.45" fill="#625c58"/><rect x="36.53" y="9.80" width="7.13" height="7.13" rx="1" fill="#1d1c1c"/><rect x="36.35" y="12.92" width="1.96" height="4.45" fill="#625c58"/><rect x="36.53" y="18.71" width="7.13" height="7.13" rx="1" fill="#1d1c1c"/><rect x="36.35" y="21.83" width="1.96" height="4.45" fill="#625c58"/><rect x="36.53" y="27.62" width="7.13" height="7.13" rx="1" fill="#1d1c1c"/><rect x="36.35" y="30.74" width="1.96" height="4.45" fill="#625c58"/><rect x="36.53" y="36.53" width="7.13" height="7.13" rx="1" fill="#1d1c1c"/><rect x="36.35" y="39.65" width="1.96" height="4.45" fill="#625c58"/></g>
<circle cx="385.8" cy="122.5" r="8.5" fill="#efefef"/>
<circle cx="385.8" cy="263.8" r="8.4" fill="#efefef"/>
<g transform="translate(403,263) rotate(45)"><rect x="-11" y="-3.5" width="22" height="7" fill="#222"/><rect x="5" y="-3.5" width="5" height="7" fill="#bbb"/></g>
<g transform="translate(419.4,242) rotate(45)"><rect x="-16" y="-20.5" width="32" height="41" fill="#3a1414"/><rect x="-14" y="-18.8" width="28" height="37.6" fill="#262424"/></g>
<rect x="456.8" y="237.8" width="17" height="50.89999999999998" fill="#8e8a8a"/>
<rect x="458.8" y="240.3" width="13" height="45.89999999999998" fill="#363333"/>
<rect x="460.5" y="243.8" width="9.5" height="1.6" fill="#9a9696"/>
<rect x="468.4" y="243.8" width="1.6" height="36.89999999999998" fill="#9a9696"/>
<rect x="463.4" y="247.8" width="2.2" height="28.899999999999977" fill="#8a8686"/>
<rect x="461" y="276.7" width="8" height="2" fill="#777"/>
<rect x="456.8" y="237.8" width="1.2" height="50.89999999999998" fill="#bdb8b8"/>
<rect x="456.8" y="290.6" width="17" height="50.39999999999998" fill="#8e8a8a"/>
<rect x="458.8" y="293.1" width="13" height="45.39999999999998" fill="#363333"/>
<rect x="460.5" y="296.6" width="9.5" height="1.6" fill="#9a9696"/>
<rect x="468.4" y="296.6" width="1.6" height="36.39999999999998" fill="#9a9696"/>
<rect x="463.4" y="300.6" width="2.2" height="28.399999999999977" fill="#8a8686"/>
<rect x="461" y="329" width="8" height="2" fill="#777"/>
<rect x="456.8" y="290.6" width="1.2" height="50.39999999999998" fill="#bdb8b8"/>
<rect x="401.4" y="310.7" width="41.3" height="52" fill="#d9c4c0"/>
<rect x="403.5" y="312.5" width="37.5" height="46" fill="#dca8a0"/>
<rect x="411.5" y="312.5" width="28.5" height="20" fill="#cf9a40"/>
<rect x="412.8" y="313.5" width="2.2" height="17.5" fill="#f0c860"/>
<rect x="416.2" y="313.5" width="2.2" height="17.5" fill="#f0c860"/>
<rect x="419.7" y="313.5" width="2.2" height="17.5" fill="#f0c860"/>
<rect x="423.2" y="313.5" width="2.2" height="17.5" fill="#f0c860"/>
<rect x="426.6" y="313.5" width="2.2" height="17.5" fill="#f0c860"/>
<rect x="430.1" y="313.5" width="2.2" height="17.5" fill="#f0c860"/>
<rect x="433.5" y="313.5" width="2.2" height="17.5" fill="#f0c860"/>
<rect x="436.9" y="313.5" width="2.2" height="17.5" fill="#f0c860"/>
<rect x="404" y="318" width="5" height="16" fill="#e0d0cc"/>
<circle cx="407.3" cy="321.3" r="1.4" fill="#222"/><circle cx="407.3" cy="329.5" r="1.4" fill="#222"/>
<rect x="407.3" y="356.3" width="33" height="9" rx="1.5" fill="#1e1e1e"/>
<rect x="410" y="358" width="7" height="6" fill="#2c2c2c"/><rect x="420" y="358" width="7" height="6" fill="#2c2c2c"/><rect x="430" y="358" width="7" height="6" fill="#2c2c2c"/>
<rect x="388.5" y="321" width="8.2" height="18" fill="#262222"/>
<circle cx="392.6" cy="325.5" r="1.6" fill="#ddd"/><circle cx="392.6" cy="333" r="1.6" fill="#ddd"/>
<rect x="390.5" y="340.5" width="6.5" height="10" fill="#c89c6a"/>
<rect x="390" y="309" width="6" height="8" fill="#d8d4d4"/>
<text x="389.5" y="306" font-size="3.6" style="fill:#f3e0e0">DN2</text><text x="408" y="306" font-size="3.6" style="fill:#f3e0e0">CN0</text>
<rect x="309.4" y="294" width="55.5" height="75.6" fill="#b6b0ae"/>
<rect x="313.5" y="297.5" width="49.5" height="61" fill="#f6f6f4"/>
<rect x="309.4" y="358.5" width="55.5" height="11.1" fill="#c4bebc"/>
<text x="0" y="0" transform="translate(319.2,303.5) rotate(90)" font-size="6.4" style="fill:#3a3a3a;font-weight:bold" textLength="50" lengthAdjust="spacingAndGlyphs">00:26:32:F0:12:00</text>
<path d="M327,305 L341,322 M341,305 L327,322" stroke="#3c3c3c" stroke-width="1.6" fill="none"/>
<path d="M329,313.5 L339,313.5 M334,306 L334,310" stroke="#3c3c3c" stroke-width="1.2" fill="none"/>
<path d="M328,306 Q334,302 340,306" stroke="#3c3c3c" stroke-width="1.2" fill="none"/>
<path d="M342,318 Q339,311 344,307 Q346,303 349,304 Q348,307 351,307 Q355,309 354,314 Q353,320 347,320.5 Q343,320.5 342,318 Z" fill="#262626"/>
<circle cx="347.5" cy="313" r="1.6" fill="#eee"/>
<rect x="329" y="328" width="26.3" height="23" fill="#fff"/>
<rect x="329.00" y="328.00" width="2.19" height="1.92" fill="#3a3a3a"/>
<rect x="329.00" y="329.92" width="2.19" height="1.92" fill="#3a3a3a"/>
<rect x="329.00" y="333.75" width="2.19" height="1.92" fill="#3a3a3a"/>
<rect x="329.00" y="337.58" width="2.19" height="1.92" fill="#3a3a3a"/>
<rect x="329.00" y="339.50" width="2.19" height="1.92" fill="#3a3a3a"/>
<rect x="329.00" y="341.42" width="2.19" height="1.92" fill="#3a3a3a"/>
<rect x="329.00" y="343.33" width="2.19" height="1.92" fill="#3a3a3a"/>
<rect x="329.00" y="345.25" width="2.19" height="1.92" fill="#3a3a3a"/>
<rect x="329.00" y="347.17" width="2.19" height="1.92" fill="#3a3a3a"/>
<rect x="329.00" y="349.08" width="2.19" height="1.92" fill="#3a3a3a"/>
<rect x="331.19" y="328.00" width="2.19" height="1.92" fill="#3a3a3a"/>
<rect x="331.19" y="331.83" width="2.19" height="1.92" fill="#3a3a3a"/>
<rect x="331.19" y="333.75" width="2.19" height="1.92" fill="#3a3a3a"/>
<rect x="331.19" y="341.42" width="2.19" height="1.92" fill="#3a3a3a"/>
<rect x="331.19" y="345.25" width="2.19" height="1.92" fill="#3a3a3a"/>
<rect x="331.19" y="349.08" width="2.19" height="1.92" fill="#3a3a3a"/>
<rect x="333.38" y="328.00" width="2.19" height="1.92" fill="#3a3a3a"/>
<rect x="333.38" y="329.92" width="2.19" height="1.92" fill="#3a3a3a"/>
<rect x="333.38" y="331.83" width="2.19" height="1.92" fill="#3a3a3a"/>
<rect x="333.38" y="335.67" width="2.19" height="1.92" fill="#3a3a3a"/>
<rect x="333.38" y="341.42" width="2.19" height="1.92" fill="#3a3a3a"/>
<rect x="333.38" y="345.25" width="2.19" height="1.92" fill="#3a3a3a"/>
<rect x="333.38" y="347.17" width="2.19" height="1.92" fill="#3a3a3a"/>
<rect x="333.38" y="349.08" width="2.19" height="1.92" fill="#3a3a3a"/>
<rect x="335.57" y="329.92" width="2.19" height="1.92" fill="#3a3a3a"/>
<rect x="335.57" y="331.83" width="2.19" height="1.92" fill="#3a3a3a"/>
<rect x="335.57" y="335.67" width="2.19" height="1.92" fill="#3a3a3a"/>
<rect x="335.57" y="337.58" width="2.19" height="1.92" fill="#3a3a3a"/>
<rect x="335.57" y="343.33" width="2.19" height="1.92" fill="#3a3a3a"/>
<rect x="337.77" y="329.92" width="2.19" height="1.92" fill="#3a3a3a"/>
<rect x="337.77" y="333.75" width="2.19" height="1.92" fill="#3a3a3a"/>
<rect x="337.77" y="335.67" width="2.19" height="1.92" fill="#3a3a3a"/>
<rect x="337.77" y="339.50" width="2.19" height="1.92" fill="#3a3a3a"/>
<rect x="337.77" y="341.42" width="2.19" height="1.92" fill="#3a3a3a"/>
<rect x="337.77" y="343.33" width="2.19" height="1.92" fill="#3a3a3a"/>
<rect x="339.96" y="329.92" width="2.19" height="1.92" fill="#3a3a3a"/>
<rect x="339.96" y="337.58" width="2.19" height="1.92" fill="#3a3a3a"/>
<rect x="339.96" y="343.33" width="2.19" height="1.92" fill="#3a3a3a"/>
<rect x="339.96" y="347.17" width="2.19" height="1.92" fill="#3a3a3a"/>
<rect x="342.15" y="333.75" width="2.19" height="1.92" fill="#3a3a3a"/>
<rect x="342.15" y="335.67" width="2.19" height="1.92" fill="#3a3a3a"/>
<rect x="342.15" y="339.50" width="2.19" height="1.92" fill="#3a3a3a"/>
<rect x="342.15" y="341.42" width="2.19" height="1.92" fill="#3a3a3a"/>
<rect x="342.15" y="343.33" width="2.19" height="1.92" fill="#3a3a3a"/>
<rect x="342.15" y="345.25" width="2.19" height="1.92" fill="#3a3a3a"/>
<rect x="342.15" y="347.17" width="2.19" height="1.92" fill="#3a3a3a"/>
<rect x="344.34" y="328.00" width="2.19" height="1.92" fill="#3a3a3a"/>
<rect x="344.34" y="329.92" width="2.19" height="1.92" fill="#3a3a3a"/>
<rect x="344.34" y="331.83" width="2.19" height="1.92" fill="#3a3a3a"/>
<rect x="344.34" y="335.67" width="2.19" height="1.92" fill="#3a3a3a"/>
<rect x="344.34" y="337.58" width="2.19" height="1.92" fill="#3a3a3a"/>
<rect x="344.34" y="347.17" width="2.19" height="1.92" fill="#3a3a3a"/>
<rect x="344.34" y="349.08" width="2.19" height="1.92" fill="#3a3a3a"/>
<rect x="346.53" y="328.00" width="2.19" height="1.92" fill="#3a3a3a"/>
<rect x="346.53" y="333.75" width="2.19" height="1.92" fill="#3a3a3a"/>
<rect x="346.53" y="335.67" width="2.19" height="1.92" fill="#3a3a3a"/>
<rect x="346.53" y="337.58" width="2.19" height="1.92" fill="#3a3a3a"/>
<rect x="346.53" y="339.50" width="2.19" height="1.92" fill="#3a3a3a"/>
<rect x="346.53" y="341.42" width="2.19" height="1.92" fill="#3a3a3a"/>
<rect x="346.53" y="345.25" width="2.19" height="1.92" fill="#3a3a3a"/>
<rect x="346.53" y="347.17" width="2.19" height="1.92" fill="#3a3a3a"/>
<rect x="346.53" y="349.08" width="2.19" height="1.92" fill="#3a3a3a"/>
<rect x="348.73" y="328.00" width="2.19" height="1.92" fill="#3a3a3a"/>
<rect x="348.73" y="335.67" width="2.19" height="1.92" fill="#3a3a3a"/>
<rect x="348.73" y="341.42" width="2.19" height="1.92" fill="#3a3a3a"/>
<rect x="350.92" y="328.00" width="2.19" height="1.92" fill="#3a3a3a"/>
<rect x="350.92" y="329.92" width="2.19" height="1.92" fill="#3a3a3a"/>
<rect x="350.92" y="331.83" width="2.19" height="1.92" fill="#3a3a3a"/>
<rect x="350.92" y="335.67" width="2.19" height="1.92" fill="#3a3a3a"/>
<rect x="350.92" y="337.58" width="2.19" height="1.92" fill="#3a3a3a"/>
<rect x="350.92" y="339.50" width="2.19" height="1.92" fill="#3a3a3a"/>
<rect x="350.92" y="341.42" width="2.19" height="1.92" fill="#3a3a3a"/>
<rect x="350.92" y="343.33" width="2.19" height="1.92" fill="#3a3a3a"/>
<rect x="350.92" y="345.25" width="2.19" height="1.92" fill="#3a3a3a"/>
<rect x="350.92" y="347.17" width="2.19" height="1.92" fill="#3a3a3a"/>
<rect x="350.92" y="349.08" width="2.19" height="1.92" fill="#3a3a3a"/>
<rect x="353.11" y="328.00" width="2.19" height="1.92" fill="#3a3a3a"/>
<rect x="353.11" y="329.92" width="2.19" height="1.92" fill="#3a3a3a"/>
<rect x="353.11" y="331.83" width="2.19" height="1.92" fill="#3a3a3a"/>
<rect x="353.11" y="337.58" width="2.19" height="1.92" fill="#3a3a3a"/>
<rect x="353.11" y="339.50" width="2.19" height="1.92" fill="#3a3a3a"/>
<rect x="353.11" y="341.42" width="2.19" height="1.92" fill="#3a3a3a"/>
<rect x="353.11" y="343.33" width="2.19" height="1.92" fill="#3a3a3a"/>
<rect x="353.11" y="345.25" width="2.19" height="1.92" fill="#3a3a3a"/>
<rect x="367.2" y="307" width="20" height="65" fill="#bcb8b6"/>
<rect x="369" y="309" width="16.4" height="40" fill="#ecebea"/>
<rect x="373" y="315" width="9.5" height="33" fill="#d4d2d0"/>
<rect x="370" y="349" width="14.4" height="21" fill="#d8d6d4"/>
<rect x="374.5" y="352" width="5.5" height="16" fill="#a8a4a2"/></g>
<path d="M219,93 L235,93 L294,19 L451,19 L451,52" fill="none" stroke="#e0303c" stroke-width="2" stroke-dasharray="2 1.6"/>
<path d="M407,19 L407,46" fill="none" stroke="#e0303c" stroke-width="2" stroke-dasharray="2 1.6"/>
<path d="M219,129.5 L234,129.5 L311,26.5 L364,26.5 L364,46" fill="none" stroke="#e0303c" stroke-width="2" stroke-dasharray="2 1.6"/>
<path d="M322,26.5 L322,52" fill="none" stroke="#e0303c" stroke-width="2" stroke-dasharray="2 1.6"/>
<path d="M218.5,182.3 L291,182.3 L303,175" fill="none" stroke="#e0303c" stroke-width="2" stroke-dasharray="2 1.6"/>
<path d="M218.5,221.4 L248,221.4 L286,387.5 L337,387.5 L337,370" fill="none" stroke="#e0303c" stroke-width="2" stroke-dasharray="2 1.6"/>
<path d="M218.5,258 L241.4,258 L275,396.5 L376.6,396.5 L376.6,370" fill="none" stroke="#e0303c" stroke-width="2" stroke-dasharray="2 1.6"/>
<path d="M218.5,297 L238,297 L265,405.8 L400.7,405.8 L400.7,366" fill="none" stroke="#e0303c" stroke-width="2" stroke-dasharray="2 1.6"/>
<path d="M218.5,334.5 L235,334.5 L254.4,415.5 L450.3,415.5 L450.3,362" fill="none" stroke="#e0303c" stroke-width="2" stroke-dasharray="2 1.6"/>
<path d="M462.4,170.8 L482.4,170.8 L535,123.6 L552,123.6" fill="none" stroke="#e0303c" stroke-width="2" stroke-dasharray="2 1.6"/>
<path d="M385.3,195.6 L402,213 L552,213" fill="none" stroke="#e0303c" stroke-width="2" stroke-dasharray="2 1.6"/>
<path d="M419.7,241.4 L430,250.5 L552,250.5" fill="none" stroke="#e0303c" stroke-width="2" stroke-dasharray="2 1.6"/>
<path d="M463.7,316 L496.8,316 L535.2,275.5 L552,275.5" fill="none" stroke="#e0303c" stroke-width="2" stroke-dasharray="2 1.6"/>
<path d="M425,326.6 L516.7,326.6 L528,316.5 L552,316.5" fill="none" stroke="#e0303c" stroke-width="2" stroke-dasharray="2 1.6"/>
<circle cx="321.5" cy="55.5" r="4.6" fill="#e01f36"/>
<circle cx="364.4" cy="49" r="4.6" fill="#e01f36"/>
<circle cx="407" cy="49" r="4.6" fill="#e01f36"/>
<circle cx="451" cy="55.5" r="4.6" fill="#e01f36"/>
<circle cx="306" cy="173" r="4.6" fill="#e01f36"/>
<circle cx="462.4" cy="170.8" r="4.6" fill="#e01f36"/>
<circle cx="385.3" cy="195.6" r="4.6" fill="#e01f36"/>
<circle cx="419.7" cy="241.4" r="4.6" fill="#e01f36"/>
<circle cx="463.7" cy="316" r="4.6" fill="#e01f36"/>
<circle cx="425" cy="326.6" r="4.6" fill="#e01f36"/>
<circle cx="337" cy="368" r="4.6" fill="#e01f36"/>
<circle cx="376.6" cy="368" r="4.6" fill="#e01f36"/>
<circle cx="400.7" cy="364" r="4.6" fill="#e01f36"/>
<circle cx="450.3" cy="360.4" r="4.6" fill="#e01f36"/>
<text x="217.2" y="90.7" font-size="14.3" text-anchor="end" textLength="119.0" lengthAdjust="spacingAndGlyphs">Fast analog inputs</text>
<text x="217.2" y="105.9" font-size="9.7" text-anchor="end" textLength="115.0" lengthAdjust="spacingAndGlyphs">(2 ch. @ 125 MS/s, 14 bits)</text>
<text x="217.2" y="130.8" font-size="14.3" text-anchor="end" textLength="129.5" lengthAdjust="spacingAndGlyphs">Fast analog outputs</text>
<text x="217.2" y="145.9" font-size="9.7" text-anchor="end" textLength="115.0" lengthAdjust="spacingAndGlyphs">(2 ch. @ 125 MS/s, 14 bits)</text>
<text x="217.2" y="171.1" font-size="14.3" text-anchor="end" textLength="204.5" lengthAdjust="spacingAndGlyphs">Digital sig. extension connector</text>
<text x="217.2" y="185.8" font-size="9.7" text-anchor="end" textLength="67.5" lengthAdjust="spacingAndGlyphs">16 FPGA GPIOs</text>
<text x="217.2" y="212.5" font-size="14.3" text-anchor="end" textLength="98.0" lengthAdjust="spacingAndGlyphs">Remote access</text>
<text x="217.2" y="226.8" font-size="9.7" text-anchor="end" textLength="72.5" lengthAdjust="spacingAndGlyphs">(Ethernet 1Gb/s)</text>
<text x="217.2" y="252.6" font-size="14.3" text-anchor="end" textLength="59.0" lengthAdjust="spacingAndGlyphs">USB port</text>
<text x="217.2" y="266.8" font-size="9.7" text-anchor="end" textLength="47.0" lengthAdjust="spacingAndGlyphs">(USB OTG)</text>
<text x="217.2" y="292.8" font-size="14.3" text-anchor="end" textLength="53.0" lengthAdjust="spacingAndGlyphs">Console</text>
<text x="217.2" y="307.1" font-size="9.7" text-anchor="end" textLength="51.5" lengthAdjust="spacingAndGlyphs">(micro USB)</text>
<text x="217.2" y="333.2" font-size="14.3" text-anchor="end" textLength="42.0" lengthAdjust="spacingAndGlyphs">Power</text>
<text x="217.2" y="347.5" font-size="9.7" text-anchor="end" textLength="51.5" lengthAdjust="spacingAndGlyphs">(micro USB)</text>
<text x="555.8" y="118.4" font-size="14.3" text-anchor="start" textLength="204.5" lengthAdjust="spacingAndGlyphs">Analog Sig extension connector</text>
<text x="555.8" y="132.8" font-size="9.7" text-anchor="start" textLength="187.5" lengthAdjust="spacingAndGlyphs">Low speed ADCs (4 ch. @ 100 kS/s, 12 bits)</text>
<text x="555.8" y="146.5" font-size="9.7" text-anchor="start" textLength="187.5" lengthAdjust="spacingAndGlyphs">Low speed DACs (4 ch. @ 100 kS/s, 12 bits)</text>
<text x="555.8" y="212.3" font-size="14.3" text-anchor="start" textLength="207" lengthAdjust="spacingAndGlyphs">Dual core ARM Cortex A9+ FPGA</text>
<text x="555.8" y="225.8" font-size="9.7" text-anchor="start" textLength="47" lengthAdjust="spacingAndGlyphs">(Zynq SoC)</text>
<text x="555.8" y="252.3" font-size="14.3" text-anchor="start" textLength="157.5" lengthAdjust="spacingAndGlyphs">DDR3 RAM 512MB (4Gb)</text>
<text x="555.8" y="278.4" font-size="14.3" text-anchor="start" textLength="144.4" lengthAdjust="spacingAndGlyphs">Daisy chain connector</text>
<text x="555.8" y="304.8" font-size="14.3" text-anchor="start" textLength="141.8" lengthAdjust="spacingAndGlyphs">System &amp; FPGA image</text>
<text x="555.8" y="319.3" font-size="9.7" text-anchor="start" textLength="66.3" lengthAdjust="spacingAndGlyphs">(micro SD card)</text>
</svg>
</body></html>
